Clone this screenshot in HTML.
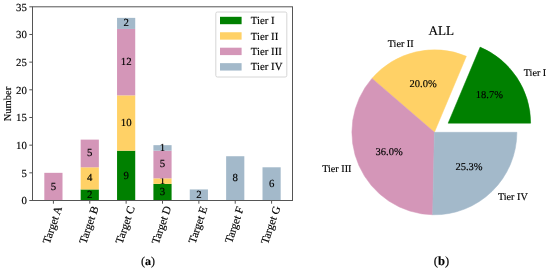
<!DOCTYPE html>
<html><head><meta charset="utf-8"><title>Figure</title>
<style>html,body{margin:0;padding:0;background:#fff;overflow:hidden}svg{display:block}text{stroke:#000;stroke-width:0.15px;text-rendering:geometricPrecision}</style></head>
<body>
<svg width="550" height="271" viewBox="0 0 550 271" font-family='"Liberation Serif", serif' font-size="10.8" fill="#000">
<rect width="550" height="271" fill="#fff"/>
<rect x="44.32" y="172.83" width="18.18" height="27.67" fill="#D496B8"/>
<text x="53.41" y="189.61" text-anchor="middle">5</text>
<rect x="80.68" y="189.43" width="18.18" height="11.07" fill="#008000"/>
<text x="89.77" y="197.92" text-anchor="middle">2</text>
<rect x="80.68" y="167.29" width="18.18" height="22.14" fill="#FFD166"/>
<text x="89.77" y="181.31" text-anchor="middle">4</text>
<rect x="80.68" y="139.62" width="18.18" height="27.67" fill="#D496B8"/>
<text x="89.77" y="156.41" text-anchor="middle">5</text>
<rect x="117.05" y="150.69" width="18.18" height="49.81" fill="#008000"/>
<text x="126.14" y="178.55" text-anchor="middle">9</text>
<rect x="117.05" y="95.35" width="18.18" height="55.34" fill="#FFD166"/>
<text x="126.14" y="125.97" text-anchor="middle">10</text>
<rect x="117.05" y="28.94" width="18.18" height="66.41" fill="#D496B8"/>
<text x="126.14" y="65.09" text-anchor="middle">12</text>
<rect x="117.05" y="17.87" width="18.18" height="11.07" fill="#A3B9CA"/>
<text x="126.14" y="26.35" text-anchor="middle">2</text>
<rect x="153.41" y="183.90" width="18.18" height="16.60" fill="#008000"/>
<text x="162.50" y="195.15" text-anchor="middle">3</text>
<rect x="153.41" y="178.36" width="18.18" height="5.53" fill="#FFD166"/>
<text x="162.50" y="184.08" text-anchor="middle">1</text>
<rect x="153.41" y="150.69" width="18.18" height="27.67" fill="#D496B8"/>
<text x="162.50" y="167.48" text-anchor="middle">5</text>
<rect x="153.41" y="145.16" width="18.18" height="5.53" fill="#A3B9CA"/>
<text x="162.50" y="150.87" text-anchor="middle">1</text>
<rect x="189.77" y="189.43" width="18.18" height="11.07" fill="#A3B9CA"/>
<text x="198.86" y="197.92" text-anchor="middle">2</text>
<rect x="226.14" y="156.23" width="18.18" height="44.27" fill="#A3B9CA"/>
<text x="235.23" y="181.31" text-anchor="middle">8</text>
<rect x="262.50" y="167.29" width="18.18" height="33.21" fill="#A3B9CA"/>
<text x="271.59" y="186.85" text-anchor="middle">6</text>
<rect x="32.5" y="6.8" width="260.0" height="193.7" fill="none" stroke="#555" stroke-width="1"/>
<line x1="29.3" x2="32.5" y1="200.50" y2="200.50" stroke="#555" stroke-width="1"/>
<text x="26.9" y="204.40" text-anchor="end">0</text>
<line x1="29.3" x2="32.5" y1="172.83" y2="172.83" stroke="#555" stroke-width="1"/>
<text x="26.9" y="176.73" text-anchor="end">5</text>
<line x1="29.3" x2="32.5" y1="145.16" y2="145.16" stroke="#555" stroke-width="1"/>
<text x="26.9" y="149.06" text-anchor="end">10</text>
<line x1="29.3" x2="32.5" y1="117.49" y2="117.49" stroke="#555" stroke-width="1"/>
<text x="26.9" y="121.39" text-anchor="end">15</text>
<line x1="29.3" x2="32.5" y1="89.81" y2="89.81" stroke="#555" stroke-width="1"/>
<text x="26.9" y="93.71" text-anchor="end">20</text>
<line x1="29.3" x2="32.5" y1="62.14" y2="62.14" stroke="#555" stroke-width="1"/>
<text x="26.9" y="66.04" text-anchor="end">25</text>
<line x1="29.3" x2="32.5" y1="34.47" y2="34.47" stroke="#555" stroke-width="1"/>
<text x="26.9" y="38.37" text-anchor="end">30</text>
<line x1="29.3" x2="32.5" y1="6.80" y2="6.80" stroke="#555" stroke-width="1"/>
<text x="26.9" y="10.70" text-anchor="end">35</text>
<line x1="53.41" x2="53.41" y1="200.5" y2="203.7" stroke="#555" stroke-width="1"/>
<text transform="translate(52.81,225.00) rotate(-71)" x="0" y="3.3" text-anchor="middle" font-size="11.3">Target A</text>
<line x1="89.77" x2="89.77" y1="200.5" y2="203.7" stroke="#555" stroke-width="1"/>
<text transform="translate(89.17,225.00) rotate(-71)" x="0" y="3.3" text-anchor="middle" font-size="11.3">Target B</text>
<line x1="126.14" x2="126.14" y1="200.5" y2="203.7" stroke="#555" stroke-width="1"/>
<text transform="translate(125.54,225.00) rotate(-71)" x="0" y="3.3" text-anchor="middle" font-size="11.3">Target C</text>
<line x1="162.50" x2="162.50" y1="200.5" y2="203.7" stroke="#555" stroke-width="1"/>
<text transform="translate(161.90,225.00) rotate(-71)" x="0" y="3.3" text-anchor="middle" font-size="11.3">Target D</text>
<line x1="198.86" x2="198.86" y1="200.5" y2="203.7" stroke="#555" stroke-width="1"/>
<text transform="translate(198.26,225.00) rotate(-71)" x="0" y="3.3" text-anchor="middle" font-size="11.3">Target E</text>
<line x1="235.23" x2="235.23" y1="200.5" y2="203.7" stroke="#555" stroke-width="1"/>
<text transform="translate(234.63,225.00) rotate(-71)" x="0" y="3.3" text-anchor="middle" font-size="11.3">Target F</text>
<line x1="271.59" x2="271.59" y1="200.5" y2="203.7" stroke="#555" stroke-width="1"/>
<text transform="translate(270.99,225.00) rotate(-71)" x="0" y="3.3" text-anchor="middle" font-size="11.3">Target G</text>
<text transform="translate(10.7,104.05) rotate(-90)" text-anchor="middle" font-size="10.5">Number</text>
<rect x="215.8" y="12" width="71" height="65" rx="1.6" fill="#fff" fill-opacity="0.8" stroke="#ccc" stroke-width="0.8"/>
<rect x="220" y="16.80" width="21.6" height="7.4" fill="#008000"/>
<text x="250.8" y="24.10">Tier I</text>
<rect x="220" y="32.25" width="21.6" height="7.4" fill="#FFD166"/>
<text x="250.8" y="39.55">Tier II</text>
<rect x="220" y="47.70" width="21.6" height="7.4" fill="#D496B8"/>
<text x="250.8" y="55.00">Tier III</text>
<rect x="220" y="63.15" width="21.6" height="7.4" fill="#A3B9CA"/>
<text x="250.8" y="70.45">Tier IV</text>
<path d="M448.14,123.17 L530.64,123.17 A82.5,82.5 0 0 0 480.11,47.12 Z" fill="#008000" stroke="#008000" stroke-width="0.5" stroke-linejoin="round"/>
<text x="523.73" y="75.95" text-anchor="start" font-size="10.2">Tier I</text>
<text x="489.37" y="98.18" text-anchor="middle" font-size="10.5">18.7%</text>
<path d="M434.40,132.30 L466.37,56.25 A82.5,82.5 0 0 0 371.95,78.39 Z" fill="#FFD166" stroke="#FFD166" stroke-width="0.5" stroke-linejoin="round"/>
<text x="413.68" y="46.95" text-anchor="end" font-size="10.2">Tier II</text>
<text x="423.10" y="86.51" text-anchor="middle" font-size="10.5">20.0%</text>
<path d="M434.40,132.30 L371.95,78.39 A82.5,82.5 0 0 0 432.67,214.78 Z" fill="#D496B8" stroke="#D496B8" stroke-width="0.5" stroke-linejoin="round"/>
<text x="351.50" y="172.21" text-anchor="end" font-size="10.2">Tier III</text>
<text x="389.18" y="154.83" text-anchor="middle" font-size="10.5">36.0%</text>
<path d="M434.40,132.30 L432.67,214.78 A82.5,82.5 0 0 0 516.90,132.30 Z" fill="#A3B9CA" stroke="#A3B9CA" stroke-width="0.5" stroke-linejoin="round"/>
<text x="497.89" y="200.14" text-anchor="start" font-size="10.2">Tier IV</text>
<text x="469.03" y="170.07" text-anchor="middle" font-size="10.5">25.3%</text>
<text x="441.3" y="34.8" text-anchor="middle" font-size="13.2">ALL</text>
<text x="148.1" y="264.6" text-anchor="middle" font-size="12">(<tspan font-weight="bold">a</tspan>)</text>
<text x="441.4" y="264.7" text-anchor="middle" font-size="12.6">(<tspan font-weight="bold">b</tspan>)</text>
</svg>
</body></html>
